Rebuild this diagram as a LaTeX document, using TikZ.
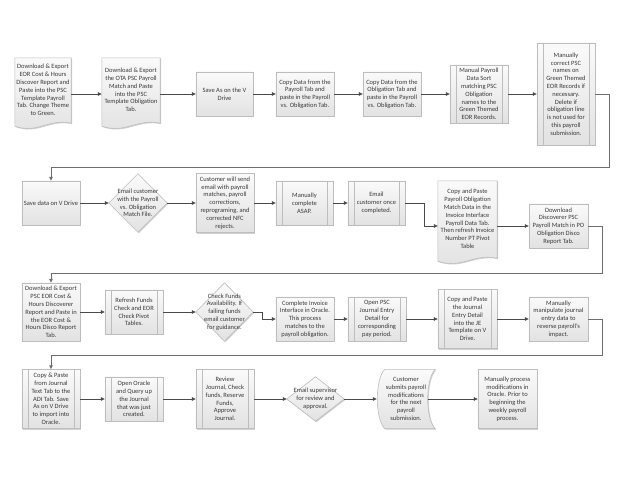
\documentclass[tikz,border=0pt]{standalone}
\usepackage{fontspec}
\setmainfont{Carlito}
\usetikzlibrary{arrows.meta,calc,shadows,backgrounds}
\definecolor{txtc}{HTML}{3A3A3A}
\definecolor{edgec}{HTML}{BDBDBD}
\definecolor{linec}{HTML}{4A4A4A}
\definecolor{retc}{HTML}{6E6E6E}
\definecolor{topc}{HTML}{FAFAFA}
\definecolor{botc}{HTML}{E2E2E2}
\newcommand\fsz{\fontsize{6.5}{7.8}\selectfont}
\tikzset{
 lbl/.style={inner sep=0pt, align=center, font=\fsz, text=txtc},
 boxsty/.style={draw=edgec, line width=0.6pt, top color=topc, bottom color=botc,
   drop shadow={shadow xshift=1pt, shadow yshift=-1pt, fill=black, opacity=0.18}},
 innerln/.style={draw=edgec, line width=0.6pt},
 conn/.style={draw=linec, line width=0.7pt, -{Triangle[length=4pt,width=3.6pt]}},
 ret/.style={draw=retc, line width=1pt, -{Triangle[length=4pt,width=3.6pt]}},
}
\newcommand\srect[1]{\path[boxsty] (#1.north west) rectangle (#1.south east);}
\newcommand\spre[1]{\srect{#1}\draw[innerln] ($(#1.north west)+(6,0)$) -- ($(#1.south west)+(6,0)$) ($(#1.north east)+(-6,0)$) -- ($(#1.south east)+(-6,0)$);}
\newcommand\sdiam[1]{\path[boxsty] (#1.north) -- (#1.east) -- (#1.south) -- (#1.west) -- cycle;}
\newcommand\sdoc[1]{\path[boxsty] (#1.north west) -- (#1.north east) -- ($(#1.south east)+(0,1)$) .. controls ($(#1.south west)!0.6!(#1.south east)+(0,-4)$) and ($(#1.south west)!0.4!(#1.south east)+(0,12)$) .. ($(#1.south west)+(0,4)$) -- cycle;}
\newcommand\sstore[1]{\path[boxsty] ($(#1.north west)+(8,0)$) -- (#1.north east) .. controls ($(#1.north east)+(-10,10)$) and ($(#1.south east)+(-10,-10)$) .. (#1.south east) -- ($(#1.south west)+(8,0)$) .. controls ($(#1.south west)+(-2,-10)$) and ($(#1.north west)+(-2,10)$) .. ($(#1.north west)+(8,0)$) -- cycle;}
\begin{document}
\begin{tikzpicture}[x=1pt,y=-1pt]
\useasboundingbox (0,0) rectangle (638,493);
% row 1
\node[lbl,minimum width=56,minimum height=64] (n1) at (43,90) {Download \& Export\\EOR Cost \& Hours\\Discover Report and\\Paste into the PSC\\Template Payroll\\Tab. Change Theme\\to Green.};
\node[lbl,minimum width=58,minimum height=64] (n2) at (131,90) {Download \& Export\\the OTA PSC Payroll\\Match and Paste\\into the PSC\\Template Obligation\\Tab.};
\node[lbl,minimum width=57,minimum height=44] (n3) at (224.5,94) {Save As on the V\\Drive};
\node[lbl,minimum width=58,minimum height=44] (n4) at (305,94) {Copy Data from the\\Payroll Tab and\\paste in the Payroll\\vs. Obligation Tab.};
\node[lbl,minimum width=58,minimum height=44] (n5) at (392,94) {Copy Data from the\\Obligation Tab and\\paste in the Payroll\\vs. Obligation Tab.};
\node[lbl,minimum width=58,minimum height=58] (n6) at (479,94) {Manual Payroll\\Data Sort\\matching PSC\\Obligation\\names to the\\Green Themed\\EOR Records.};
\node[lbl,minimum width=58,minimum height=102] (n7) at (566,94) {Manually\\correct PSC\\names on\\Green Themed\\EOR Records if\\necessary.\\Delete if\\obligation line\\is not used for\\this payroll\\submission.};
% row 2
\node[lbl,minimum width=58,minimum height=44] (n8) at (51,203) {Save data on V Drive};
\node[lbl,minimum width=58,minimum height=58] (n9) at (138,203) {Email customer\\with the Payroll\\vs. Obligation\\Match File.};
\node[lbl,minimum width=58,minimum height=59] (n10) at (225,203) {Customer will send\\email with payroll\\matches, payroll\\corrections,\\reprograming, and\\corrected NFC\\rejects.};
\node[lbl,minimum width=57,minimum height=44] (n11) at (304.5,203) {Manually\\complete\\ASAP.};
\node[lbl,minimum width=57,minimum height=44] (n12) at (376.5,203) {Email\\customer once\\completed.};
\node[lbl,minimum width=59,minimum height=76] (n13) at (467.5,219) {Copy and Paste\\Payroll Obligation\\Match Data in the\\Invoice Interface\\Payroll Data Tab.\\Then refresh Invoice\\Number PT Pivot\\Table};
\node[lbl,minimum width=59,minimum height=44] (n14) at (558.5,226) {Download\\Discoverer PSC\\Payroll Match in PO\\Obligation Disco\\Report Tab.};
% row 3
\node[lbl,minimum width=58,minimum height=58] (n15) at (51,312) {Download \& Export\\PSC EOR Cost \&\\Hours Discoverer\\Report and Paste in\\the EOR Cost \&\\Hours Disco Report\\Tab.};
\node[lbl,minimum width=58,minimum height=44] (n16) at (134,312) {Refresh Funds\\Check and EOR\\Check Pivot\\Tables.};
\node[lbl,minimum width=57,minimum height=58] (n17) at (224.5,312) {Check Funds\\Availability. If\\failing funds\\email customer\\for guidance.};
\node[lbl,minimum width=58,minimum height=44] (n18) at (305,319) {Complete Invoice\\Interface in Oracle.\\This process\\matches to the\\payroll obligation.};
\node[lbl,minimum width=58,minimum height=44] (n19) at (377,319) {Open PSC\\Journal Entry\\Detail for\\corresponding\\pay period.};
\node[lbl,minimum width=59,minimum height=59] (n20) at (467.5,319) {Copy and Paste\\the Journal\\Entry Detail\\into the JE\\Template on V\\Drive.};
\node[lbl,minimum width=59,minimum height=44] (n21) at (558.5,319) {Manually\\manipulate journal\\entry data to\\reverse payroll's\\impact.};
% row 4
\node[lbl,minimum width=58,minimum height=59] (n22) at (51,399) {Copy \& Paste\\from Journal\\Text Tab to the\\ADI Tab. Save\\As on V Drive\\to import into\\Oracle.};
\node[lbl,minimum width=58,minimum height=44] (n23) at (134,399) {Open Oracle\\and Query up\\the Journal\\that was just\\created.};
\node[lbl,minimum width=58,minimum height=59] (n24) at (225,399) {Review\\Journal, Check\\funds, Reserve\\Funds,\\Approve\\Journal.};
\node[lbl,minimum width=57,minimum height=44] (n25) at (315.5,399) {Email supervisor\\for review and\\approval.};
\node[lbl,minimum width=58,minimum height=59] (n26) at (406,399) {Customer\\submits payroll\\modifications\\for the next\\payroll\\submission.};
\node[lbl,minimum width=59,minimum height=59] (n27) at (507.5,399) {Manually process\\modifications in\\Oracle. Prior to\\beginning the\\weekly payroll\\process.};
% shapes
\begin{scope}[on background layer]
\fill[white] (0,0) rectangle (638,493);
\sdoc{n1}\sdoc{n2}\srect{n3}\srect{n4}\srect{n5}\spre{n6}\spre{n7}
\srect{n8}\sdiam{n9}\srect{n10}\spre{n11}\spre{n12}\sdoc{n13}\srect{n14}
\srect{n15}\spre{n16}\sdiam{n17}\srect{n18}\spre{n19}\spre{n20}\srect{n21}
\spre{n22}\spre{n23}\spre{n24}\sdiam{n25}\sstore{n26}\srect{n27}
\end{scope}
% connectors
\coordinate (row1) at (0,94);
\draw[conn] (n1.east |- row1) -- (n2.west |- row1);
\draw[conn] (n2.east |- row1) -- (n3.west);
\draw[conn] (n3.east) -- (n4.west);
\draw[conn] (n4.east) -- (n5.west);
\draw[conn] (n5.east) -- (n6.west);
\draw[conn] (n6.east) -- (n7.west);
\coordinate (r1) at (609,167);
\draw[ret] (n7.east) -| (r1) -| (n8.north);
\draw[conn] (n8.east) -- (n9.west);
\draw[conn] (n9.east) -- (n10.west);
\draw[conn] (n10.east) -- (n11.west);
\draw[conn] (n11.east) -- (n12.west);
\coordinate (e2) at (424,226);
\draw[conn] (n12.east) -| (e2) -- (n13.west |- e2);
\draw[conn] (n13.east |- n14) -- (n14.west);
\coordinate (r2) at (602,273);
\draw[ret] (n14.east) -| (r2) -| (n15.north);
\draw[conn] (n15.east) -- (n16.west);
\draw[conn] (n16.east) -- (n17.west);
\coordinate (e3) at (262,319);
\draw[conn] (n17.east) -| (e3) -- (n18.west);
\draw[conn] (n18.east) -- (n19.west);
\draw[conn] (n19.east) -- (n20.west);
\draw[conn] (n20.east) -- (n21.west);
\coordinate (r3) at (602,355);
\draw[ret] (n21.east) -| (r3) -| (n22.north);
\draw[conn] (n22.east) -- (n23.west);
\draw[conn] (n23.east) -- (n24.west);
\draw[conn] (n24.east) -- (n25.west);
\draw[conn] (n25.east) -- (n26.west);
\coordinate (s26) at ($(n26.east)+(-7.5,0)$);
\draw[conn] (s26) -- (n27.west);
\end{tikzpicture}
\end{document}
